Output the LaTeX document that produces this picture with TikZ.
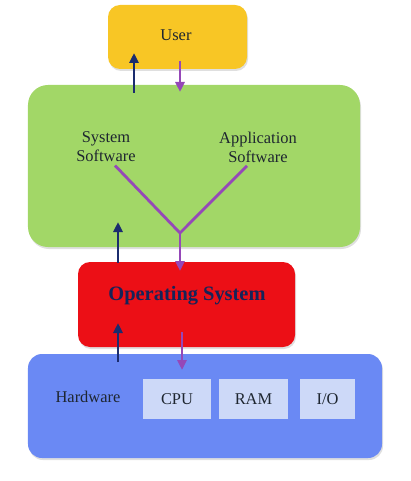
\documentclass[tikz,border=0pt]{standalone}
\usepackage{fontspec}
\setmainfont{Liberation Serif}
\usepackage{tikz}
\usetikzlibrary{arrows.meta,shadows}

\definecolor{userfill}{HTML}{F8C625}
\definecolor{softfill}{HTML}{A2D767}
\definecolor{osfill}{HTML}{EC0F16}
\definecolor{hwfill}{HTML}{6A89F4}
\definecolor{partfill}{HTML}{CDD9F8}
\definecolor{upcol}{HTML}{1B2C6E}
\definecolor{downcol}{HTML}{9548B8}
\definecolor{inkcol}{HTML}{1E2630}

\begin{document}
\begin{tikzpicture}[x=1bp,y=-1bp,font=\fontsize{16.5}{19}\selectfont,text=inkcol]
            \tikzset{layer/.style = {shape=rectangle,rounded corners=12bp,inner sep=0pt,
                drop shadow={opacity=0.25,shadow xshift=1bp,shadow yshift=-2bp}}}
            \tikzset{part/.style = {shape=rectangle,fill=partfill,inner sep=0pt,minimum height=40bp}}
            \tikzset{upedge/.style = {-{Triangle[length=10bp,width=9bp]},line width=2.8bp,draw=upcol}}
            \tikzset{downedge/.style = {-{Triangle[length=10bp,width=9bp]},line width=2.8bp,draw=downcol}}
            \useasboundingbox (0,0) rectangle (410,481);

            \node[layer,fill=userfill,minimum width=139bp,minimum height=64bp] (user) at (177.5,37) {};
            \node (usertxt) at (176,35) {User};
            \node[layer,fill=softfill,rounded corners=20bp,minimum width=332bp,minimum height=162bp] (soft) at (194,166) {};
            \node[align=center] (sys) at (106,147) {System\\Software};
            \node[align=center] (app) at (258,147) {Application\\Software};
            \node[layer,fill=osfill,minimum width=217bp,minimum height=85bp] (os) at (186.5,304.5) {};
            \node[font=\fontsize{20.5}{24}\selectfont\bfseries,text=upcol!80!black] (ostxt) at (187,296) {Operating System};
            \node[layer,fill=hwfill,rounded corners=14bp,minimum width=354bp,minimum height=104bp] (hw) at (205,406) {};
            \node (hwtxt) at (88,397) {Hardware};
            \node[part,minimum width=68bp] (cpu) at (177,399) {CPU};
            \node[part,minimum width=69bp] (ram) at (253.5,399) {RAM};
            \node[part,minimum width=55bp] (io) at (327.5,399) {I/O};

            \coordinate (s1) at (134,93);
            \coordinate (u1) at (134,53);
            \coordinate (u2) at (180,61);
            \coordinate (s2) at (180,92);
            \coordinate (fork) at (180,233);
            \coordinate (o1) at (180,271);
            \coordinate (o2) at (118,263);
            \coordinate (s3) at (118,222);
            \coordinate (h1) at (118,362);
            \coordinate (o3) at (118,323);
            \coordinate (o4) at (182,332);
            \coordinate (h2) at (182,370);

            \draw[upedge] (s1) to (u1);
            \draw[downedge] (u2) to (s2);
            \draw[line width=2.8bp,draw=downcol] (sys.south) ++(9,0) -- (fork);
            \draw[line width=2.8bp,draw=downcol] (app.south) ++(-11,0) -- (fork);
            \draw[downedge] (fork) to (o1);
            \draw[upedge] (o2) to (s3);
            \draw[upedge] (h1) to (o3);
            \draw[downedge] (o4) to (h2);
        \end{tikzpicture}
\end{document}
